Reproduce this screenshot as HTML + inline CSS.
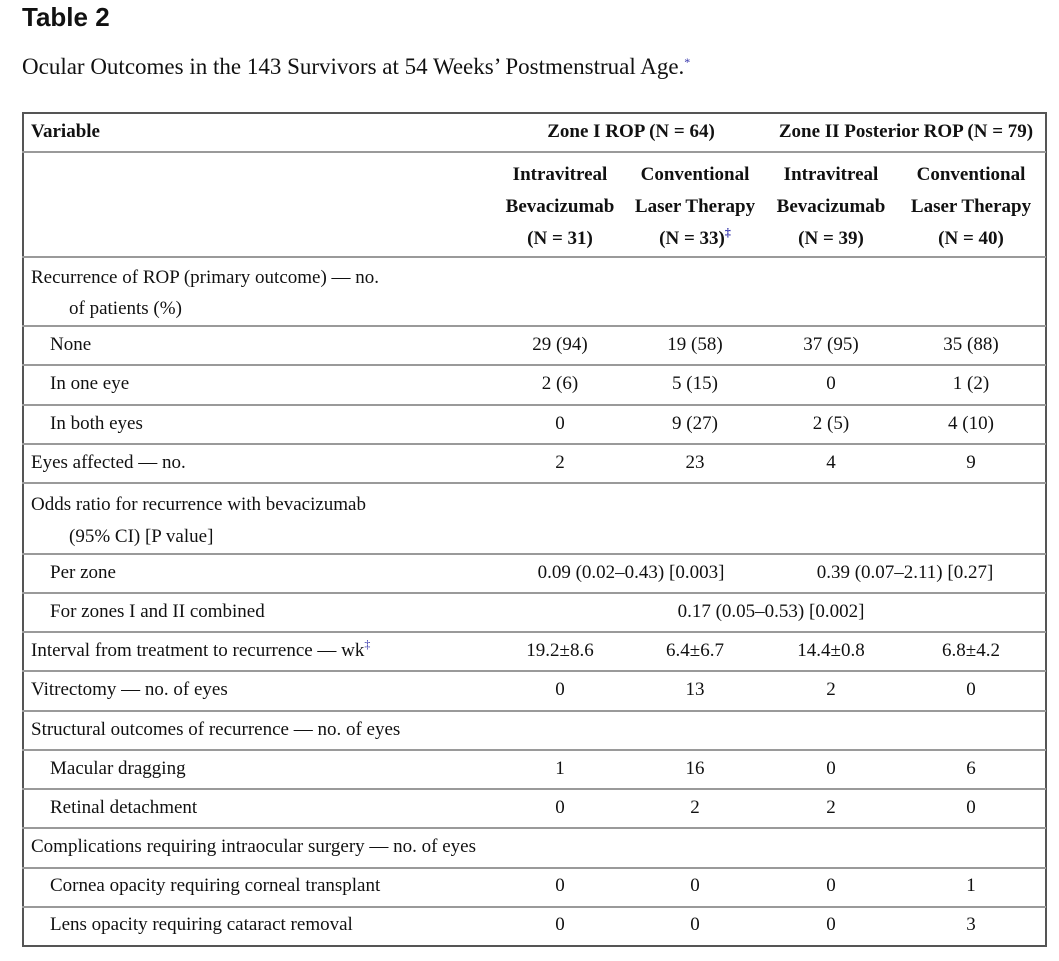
<!DOCTYPE html>
<html><head><meta charset="utf-8"><style>
body{margin:0;width:1059px;height:961px;background:#fff;position:relative;font-family:"Liberation Serif",serif;color:#111;overflow:hidden}
.t{position:absolute;white-space:nowrap}
.h{position:absolute;left:22px;width:1024px;height:2px;background:#9a9a9a}
.c{position:absolute;width:150px;text-align:center;font-size:19px;white-space:nowrap}
.b{font-weight:bold}
.l{position:absolute;font-size:19px;white-space:nowrap}
sup{color:#33a;font-size:12px;line-height:0;vertical-align:8px}
.ind{padding-left:38px}
</style></head><body>
<div class="t" style="left:22px;top:2px;font:bold 26px 'Liberation Sans',sans-serif">Table 2</div>
<div class="t" style="left:22px;top:54px;font-size:23px">Ocular Outcomes in the 143 Survivors at 54 Weeks’ Postmenstrual Age.<sup>*</sup></div>
<div style="position:absolute;left:22px;top:112px;width:1021px;height:831px;border:2px solid #555"></div>
<div class="h" style="top:151px"></div>
<div class="h" style="top:256px"></div>
<div class="h" style="top:325px"></div>
<div class="h" style="top:364px"></div>
<div class="h" style="top:404px"></div>
<div class="h" style="top:443px"></div>
<div class="h" style="top:482px"></div>
<div class="h" style="top:553px"></div>
<div class="h" style="top:592px"></div>
<div class="h" style="top:631px"></div>
<div class="h" style="top:670px"></div>
<div class="h" style="top:710px"></div>
<div class="h" style="top:749px"></div>
<div class="h" style="top:788px"></div>
<div class="h" style="top:827px"></div>
<div class="h" style="top:867px"></div>
<div class="h" style="top:906px"></div>

<div class="l b" style="left:31px;top:121px">Variable</div>
<div class="c b" style="left:506px;width:250px;top:121px">Zone I ROP (N = 64)</div>
<div class="c b" style="left:766px;width:280px;top:121px">Zone II Posterior ROP (N = 79)</div>
<div class="c b" style="left:485px;top:159px;line-height:32px">Intravitreal<br>Bevacizumab<br>(N = 31)</div>
<div class="c b" style="left:620px;top:159px;line-height:32px">Conventional<br>Laser Therapy<br>(N = 33)<sup>‡</sup></div>
<div class="c b" style="left:756px;top:159px;line-height:32px">Intravitreal<br>Bevacizumab<br>(N = 39)</div>
<div class="c b" style="left:896px;top:159px;line-height:32px">Conventional<br>Laser Therapy<br>(N = 40)</div>

<div class="l" style="left:31px;top:262px;line-height:31px">Recurrence of ROP (primary outcome) — no.<br><span class="ind">of patients (%)</span></div>

<div class="l" style="left:50px;top:334px">None</div>
<div class="c" style="left:485px;top:334px">29 (94)</div><div class="c" style="left:620px;top:334px">19 (58)</div><div class="c" style="left:756px;top:334px">37 (95)</div><div class="c" style="left:896px;top:334px">35 (88)</div>
<div class="l" style="left:50px;top:373px">In one eye</div>
<div class="c" style="left:485px;top:373px">2 (6)</div><div class="c" style="left:620px;top:373px">5 (15)</div><div class="c" style="left:756px;top:373px">0</div><div class="c" style="left:896px;top:373px">1 (2)</div>
<div class="l" style="left:50px;top:413px">In both eyes</div>
<div class="c" style="left:485px;top:413px">0</div><div class="c" style="left:620px;top:413px">9 (27)</div><div class="c" style="left:756px;top:413px">2 (5)</div><div class="c" style="left:896px;top:413px">4 (10)</div>
<div class="l" style="left:31px;top:452px">Eyes affected — no.</div>
<div class="c" style="left:485px;top:452px">2</div><div class="c" style="left:620px;top:452px">23</div><div class="c" style="left:756px;top:452px">4</div><div class="c" style="left:896px;top:452px">9</div>

<div class="l" style="left:31px;top:489px;line-height:32px">Odds ratio for recurrence with bevacizumab<br><span class="ind">(95% CI) [P value]</span></div>
<div class="l" style="left:50px;top:562px">Per zone</div>
<div class="c" style="left:506px;width:250px;top:562px">0.09 (0.02–0.43) [0.003]</div>
<div class="c" style="left:780px;width:250px;top:562px">0.39 (0.07–2.11) [0.27]</div>
<div class="l" style="left:50px;top:601px">For zones I and II combined</div>
<div class="c" style="left:646px;width:250px;top:601px">0.17 (0.05–0.53) [0.002]</div>
<div class="l" style="left:31px;top:640px">Interval from treatment to recurrence — wk<sup>‡</sup></div>
<div class="c" style="left:485px;top:640px">19.2±8.6</div><div class="c" style="left:620px;top:640px">6.4±6.7</div><div class="c" style="left:756px;top:640px">14.4±0.8</div><div class="c" style="left:896px;top:640px">6.8±4.2</div>
<div class="l" style="left:31px;top:679px">Vitrectomy — no. of eyes</div>
<div class="c" style="left:485px;top:679px">0</div><div class="c" style="left:620px;top:679px">13</div><div class="c" style="left:756px;top:679px">2</div><div class="c" style="left:896px;top:679px">0</div>
<div class="l" style="left:31px;top:719px">Structural outcomes of recurrence — no. of eyes</div>
<div class="l" style="left:50px;top:758px">Macular dragging</div>
<div class="c" style="left:485px;top:758px">1</div><div class="c" style="left:620px;top:758px">16</div><div class="c" style="left:756px;top:758px">0</div><div class="c" style="left:896px;top:758px">6</div>
<div class="l" style="left:50px;top:797px">Retinal detachment</div>
<div class="c" style="left:485px;top:797px">0</div><div class="c" style="left:620px;top:797px">2</div><div class="c" style="left:756px;top:797px">2</div><div class="c" style="left:896px;top:797px">0</div>
<div class="l" style="left:31px;top:836px">Complications requiring intraocular surgery — no. of eyes</div>
<div class="l" style="left:50px;top:875px">Cornea opacity requiring corneal transplant</div>
<div class="c" style="left:485px;top:875px">0</div><div class="c" style="left:620px;top:875px">0</div><div class="c" style="left:756px;top:875px">0</div><div class="c" style="left:896px;top:875px">1</div>
<div class="l" style="left:50px;top:914px">Lens opacity requiring cataract removal</div>
<div class="c" style="left:485px;top:914px">0</div><div class="c" style="left:620px;top:914px">0</div><div class="c" style="left:756px;top:914px">0</div><div class="c" style="left:896px;top:914px">3</div>
</body></html>
